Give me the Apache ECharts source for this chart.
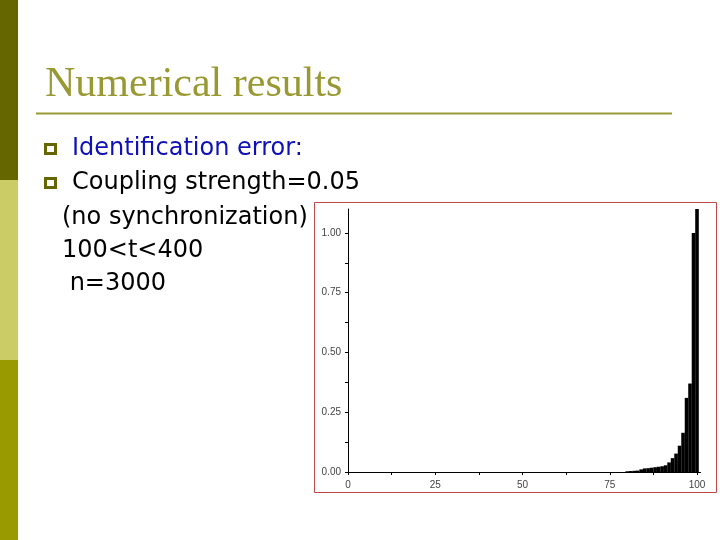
<!DOCTYPE html>
<html>
<head>
<meta charset="utf-8">
<script src="https://cdn.jsdelivr.net/npm/echarts@6/dist/echarts.min.js"></script>
<style>
  html, body { margin: 0; padding: 0; background: #fff; }
  #chart { width: 720px; height: 540px; }
</style>
</head>
<body>
<div id="chart"></div>
<script>
// histogram bins (centre of each 1-unit bin) and their heights
const binCenters = [80, 81, 82, 83, 84, 85, 86, 87, 88, 89, 90, 91, 92, 93, 94, 95, 96, 97, 98, 99, 100]
const errorValues = [0.003, 0.004, 0.005, 0.006, 0.011, 0.015, 0.016, 0.018, 0.02, 0.022, 0.024, 0.028,
  0.04, 0.058, 0.077, 0.11, 0.164, 0.31, 0.37, 1.0, 1.1]

const xTicks = [0, 12.5, 25, 37.5, 50, 62.5, 75, 87.5, 100]
const xLabels = [0, 25, 50, 75, 100]
const yTicks = [0, 0.125, 0.25, 0.375, 0.5, 0.625, 0.75, 0.875, 1.0]
const yLabels = [0, 0.25, 0.5, 0.75, 1.0]

const bulletLines = ['Identification error:', 'Coupling strength=0.05']
const extraLines = ['(no synchronization)', '100<t<400', ' n=3000']

const olive = '#999933'
const textFont = '"DejaVu Sans", Verdana, sans-serif'

const chart = echarts.init(document.getElementById('chart'))

// slide decoration: side bars, rule, bullets, text
const graphics = [
  { type: 'rect', shape: { x: 0, y: 0, width: 18, height: 180 }, style: { fill: '#666600' } },
  { type: 'rect', shape: { x: 0, y: 180, width: 18, height: 180 }, style: { fill: '#cccc66' } },
  { type: 'rect', shape: { x: 0, y: 360, width: 18, height: 180 }, style: { fill: '#999900' } },
  { type: 'rect', shape: { x: 36, y: 112.5, width: 636, height: 2 }, style: { fill: olive } },
  // frame around the plot
  { type: 'rect', shape: { x: 314.5, y: 202.5, width: 402, height: 290 },
    style: { fill: null, stroke: '#c04848', lineWidth: 1 } }
]

bulletLines.forEach((t, i) => {
  const y = 161 + i * 34
  graphics.push({
    type: 'rect', shape: { x: 45.5, y: y - 16.5, width: 10, height: 9 },
    style: { fill: null, stroke: '#666600', lineWidth: 3 }
  })
  graphics.push({
    type: 'text', x: 72, y: y,
    style: { text: t, font: `24px ${textFont}`, fill: i === 0 ? '#1010b8' : '#000', textVerticalAlign: 'bottom' }
  })
})

extraLines.forEach((t, i) => {
  graphics.push({
    type: 'text', x: 62, y: 230 + i * 33,
    style: { text: t, font: `24px ${textFont}`, fill: '#000', textVerticalAlign: 'bottom' }
  })
})

const option = {
  animation: false,
  title: {
    text: 'Numerical results',
    left: 40,
    top: 59,
    textStyle: { fontFamily: '"Liberation Serif", serif', fontSize: 42, fontWeight: 'normal', color: olive }
  },
  graphic: graphics,
  grid: { left: 348, right: 19.5, top: 209, bottom: 68 },
  xAxis: {
    type: 'value',
    min: 0,
    max: 101,
    axisLine: { lineStyle: { color: '#000', width: 1 } },
    axisTick: { customValues: xTicks, length: 3, lineStyle: { color: '#000' } },
    axisLabel: { customValues: xLabels, fontSize: 10, color: '#444', margin: 8, fontFamily: 'Arial, sans-serif' },
    splitLine: { show: false }
  },
  yAxis: {
    type: 'value',
    min: 0,
    max: 1.1,
    axisLine: { show: true, lineStyle: { color: '#000', width: 1 } },
    axisTick: { show: true, customValues: yTicks, length: 3, lineStyle: { color: '#000' } },
    axisLabel: {
      customValues: yLabels, fontSize: 10, color: '#444', margin: 7, fontFamily: 'Arial, sans-serif',
      formatter: v => v.toFixed(2)
    },
    splitLine: { show: false }
  },
  series: [{
    type: 'bar',
    data: binCenters.map((x, i) => [x, errorValues[i]]),
    barWidth: 3.6,
    itemStyle: { color: '#000' },
    clip: true
  }]
}

chart.setOption(option)
</script>
</body>
</html>
